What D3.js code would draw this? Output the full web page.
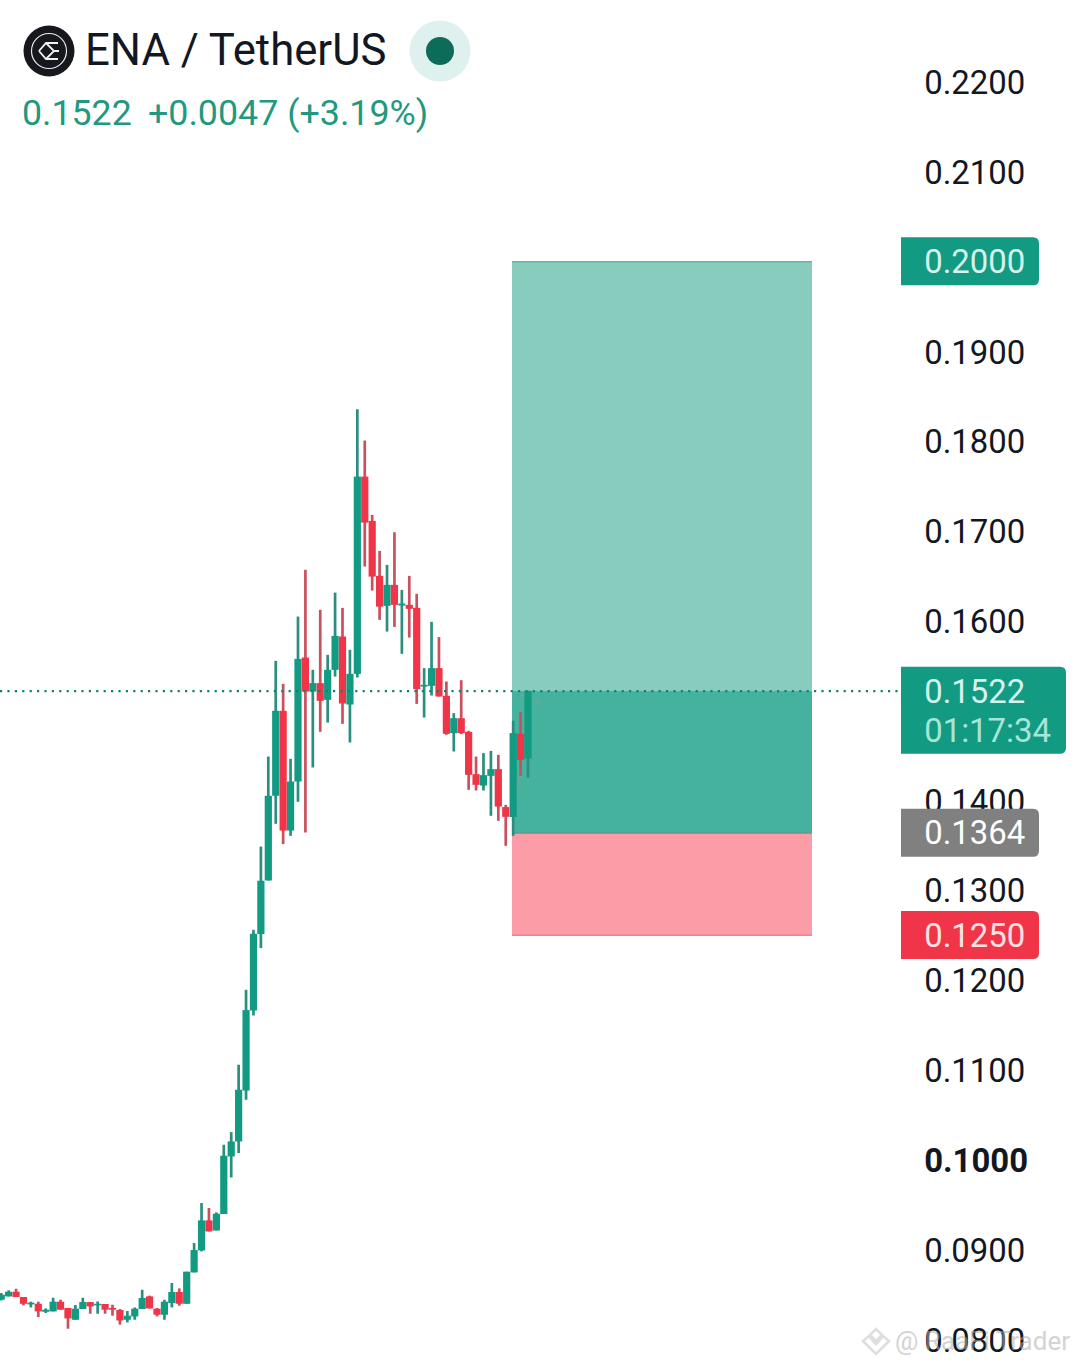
<!DOCTYPE html>
<html><head><meta charset="utf-8">
<style>html,body{margin:0;padding:0;background:#fff}svg{display:block}text{font-family:Roboto,sans-serif}</style>
<script src="https://cdn.jsdelivr.net/npm/d3@7/dist/d3.min.js"></script>
</head><body><div id="c"></div>
<script>
const opens=[.08444,.08481,.08533,.08474,.08392,.08399,.08310,.08314,.08422,.08352,.08221,.08341,.08418,.08381,.08396,.08352,.08329,.08221,.08258,.08341,.08481,.08344,.08277,.08407,.08530,.08399,.08748,.08993,.09327,.09215,.09398,.10039,.10206,.10773,.11664,.12515,.13111,.14054,.15000,.13667,.14213,.15593,.15214,.15308,.15122,.15456,.15827,.15070,.15411,.17607,.17114,.16502,.16168,.16402,.16172,.16179,.16146,.15270,.15278,.15475,.15167,.14751,.14918,.14766,.14295,.14168,.14276,.14351,.13928,.13817,.14744,.14469];
const highs=[.08519,.08548,.08566,.08474,.08422,.08422,.08347,.08466,.08444,.08352,.08385,.08466,.08418,.08425,.08396,.08388,.08340,.08318,.08358,.08555,.08489,.08352,.08444,.08630,.08570,.08756,.09075,.09520,.09465,.09416,.10169,.10310,.11060,.11894,.12562,.13489,.14491,.15556,.15300,.14465,.16049,.16569,.15456,.16124,.15623,.16316,.16146,.15678,.18357,.18008,.17181,.16780,.16625,.16988,.16346,.16502,.16302,.15475,.15990,.15820,.15326,.14974,.15341,.14777,.14491,.14529,.14554,.14510,.13953,.14888,.14985,.15222];
const lows=[.08436,.08481,.08474,.08381,.08358,.08251,.08296,.08314,.08333,.08121,.08221,.08341,.08288,.08288,.08288,.08266,.08166,.08191,.08221,.08341,.08347,.08258,.08221,.08358,.08377,.08399,.08748,.08982,.09204,.09215,.09398,.09805,.10077,.10670,.11608,.12358,.13111,.13742,.13516,.13608,.13987,.13645,.14369,.14766,.14869,.15381,.14855,.14647,.15370,.16606,.16338,.16012,.15882,.15934,.15634,.15815,.15077,.14925,.15170,.15159,.14733,.14547,.14740,.14120,.14113,.14113,.13831,.13775,.13497,.13608,.14276,.14251];
const closes=[.08500,.08533,.08474,.08399,.08411,.08314,.08333,.08422,.08333,.08236,.08344,.08418,.08369,.08399,.08333,.08333,.08213,.08266,.08344,.08463,.08347,.08277,.08422,.08530,.08399,.08756,.08997,.09327,.09204,.09401,.10047,.10206,.10781,.11668,.12518,.13108,.14054,.15000,.13667,.14213,.15578,.15214,.15308,.15111,.15456,.15834,.15081,.15411,.17607,.17095,.16494,.16160,.16402,.16179,.16194,.16135,.15241,.15289,.15475,.15159,.14744,.14918,.14751,.14287,.14176,.14284,.14351,.13934,.13820,.14751,.14454,.15222];
const yTicks=[.22,.21,.19,.18,.17,.16,.14,.13,.12,.11,.10,.09,.08];
const boldTick=.10;
const lastPrice=.1522, targetPrice=.2000, entryPrice=.1364, stopPrice=.1250;
const titleText="ENA / TetherUS";
const quoteText="0.1522";
const changeText="+0.0047 (+3.19%)";
const countdown="01:17:34";
const watermark="@ RaaFi Trader";

const GREEN="#129a82",RED="#ef3547";
const W=1080,H=1366;
const svg=d3.select("#c").append("svg").attr("width",W).attr("height",H).attr("viewBox",`0 0 ${W} ${H}`);
const y=d3.scaleLinear().domain([.22,.08]).range([82,1339.6]);
const x=d3.scaleLinear().domain([0,71]).range([1.2,528]);
const posX0=512,posX1=812;

// position tool
const zones=[[targetPrice,lastPrice,"#87ccbc"],[lastPrice,entryPrice,"#44b29e"],[entryPrice,stopPrice,"#fb9ca6"]];
svg.selectAll("rect.zone").data(zones).join("rect").attr("class","zone")
 .attr("x",posX0).attr("width",posX1-posX0)
 .attr("y",d=>y(d[0])).attr("height",d=>y(d[1])-y(d[0])).attr("fill",d=>d[2]);
svg.append("line").attr("x1",posX0).attr("x2",posX1).attr("y1",y(targetPrice)).attr("y2",y(targetPrice)).attr("stroke","#5fb8a6").attr("stroke-width",1.5);
svg.append("line").attr("x1",posX0).attr("x2",posX1).attr("y1",y(entryPrice)).attr("y2",y(entryPrice)).attr("stroke","#5c9d92").attr("stroke-width",1.5);
svg.append("line").attr("x1",posX0).attr("x2",posX1).attr("y1",y(stopPrice)).attr("y2",y(stopPrice)).attr("stroke","#ee8590").attr("stroke-width",1.5);

// faint path arrow from entry to the last price
svg.append("path").attr("fill","none").attr("stroke","#7f9f99").attr("stroke-width",1.4).attr("opacity",.75)
 .attr("d",`M${x(69)},${y(entryPrice)}L${x(71)},${y(lastPrice)}`);
svg.append("path").attr("fill","none").attr("stroke","#7f9f99").attr("stroke-width",1.6).attr("opacity",.8)
 .attr("d",`M${x(71)-8},${y(lastPrice)+6}L${x(71)-2},${y(lastPrice)+1}M${x(71)+6},${y(lastPrice)+7}L${x(71)+13},${y(lastPrice)+14}`);

// candles
const idx=d3.range(opens.length);
const col=i=>closes[i]>=opens[i]?GREEN:RED;
const wickCol=i=>closes[i]>=opens[i]?"#2a8f7e":"#c9505e";
svg.selectAll("line.w").data(idx).join("line").attr("class","w")
 .attr("x1",x).attr("x2",x).attr("y1",i=>y(highs[i])).attr("y2",i=>y(lows[i]))
 .attr("stroke",wickCol).attr("stroke-width",2.7);
svg.selectAll("rect.b").data(idx).join("rect").attr("class","b")
 .attr("x",i=>x(i)-3.6).attr("width",7.2)
 .attr("y",i=>y(Math.max(opens[i],closes[i])))
 .attr("height",i=>Math.max(1.6,Math.abs(y(opens[i])-y(closes[i]))))
 .attr("fill",col);

// last price dotted line
svg.append("line").attr("x1",0).attr("x2",900).attr("y1",y(lastPrice)).attr("y2",y(lastPrice))
 .attr("stroke","#0c8570").attr("stroke-width",2.2).attr("stroke-dasharray","2.2 5.2");

// axis
const axis=d3.axisRight(y).tickValues(yTicks).tickSize(0).tickPadding(0).tickFormat(d3.format(".4f"));
const gA=svg.append("g").attr("transform","translate(924.2,0)").call(axis);
gA.select(".domain").remove();
gA.selectAll("text").style("font-family","Roboto,sans-serif").style("font-size","32.9px").attr("fill","#131722")
 .attr("dy","0.35em")
 .style("font-weight",d=>d===boldTick?700:400);

// tags
function tagPath(x0,y0,w,h,r){return `M${x0},${y0}H${x0+w-r}Q${x0+w},${y0} ${x0+w},${y0+r}V${y0+h-r}Q${x0+w},${y0+h} ${x0+w-r},${y0+h}H${x0}Z`;}
const tags=[[targetPrice,GREEN,"#d6f3ec"],[entryPrice,"#808080","#fff"],[stopPrice,RED,"#fde2e5"]];
tags.forEach(t=>{
 const c=y(t[0]);
 svg.append("path").attr("d",tagPath(901,c-24.3,138,48,6)).attr("fill",t[1]);
 svg.append("text").attr("x",924.2).attr("y",c).attr("dy","0.35em").attr("font-size",32.9).attr("fill",t[2]).text(d3.format(".4f")(t[0]));
});
const cy=y(lastPrice);
svg.append("path").attr("d",tagPath(901,cy-24.3,165,87,6)).attr("fill",GREEN);
svg.append("text").attr("x",924.2).attr("y",cy).attr("dy","0.35em").attr("font-size",32.9).attr("fill","#d6f3ec").text(d3.format(".4f")(lastPrice));
svg.append("text").attr("x",924.2).attr("y",cy+39).attr("dy","0.35em").attr("font-size",32.9).attr("fill","#a6e6d8").text(countdown);

// header
const ic=svg.append("g").attr("transform","translate(49,51)");
ic.append("circle").attr("r",25.5).attr("fill","#16181d");
ic.append("circle").attr("r",17.5).attr("fill","none").attr("stroke","#e8e8e8").attr("stroke-width",1.2);
ic.append("path").attr("d","M-10,0L-3,-8H9M-10,0L-3,8H9M-3,-8L5,0L-3,8M5,0H10").attr("fill","none").attr("stroke","#f2f2f2").attr("stroke-width",1.8);
svg.append("text").attr("x",85).attr("y",65).attr("font-size",43.7).attr("fill","#131722").text(titleText);
svg.append("circle").attr("cx",440).attr("cy",51).attr("r",30.5).attr("fill","#dff1ee");
svg.append("circle").attr("cx",440).attr("cy",51).attr("r",14).attr("fill","#0d6b5a");
svg.append("text").attr("x",22).attr("y",125).attr("font-size",35.7).attr("fill","#22987f").text(quoteText);
svg.append("text").attr("x",148).attr("y",125).attr("font-size",35.8).attr("fill","#22987f").text(changeText);

// watermark
const wm=svg.append("g").attr("opacity",.55);
const lg=wm.append("g").attr("transform","translate(876,1341)").attr("fill","none").attr("stroke","#c4c4c4").attr("stroke-width",2.6);
lg.append("path").attr("d","M0,-12L6,-6L0,0L-6,-6ZM-13,0L-7,-5L-2,1L0,3L2,1L7,-5L13,0L0,13Z");
wm.append("text").attr("x",895).attr("y",1350).attr("font-size",26).attr("fill","#b0b0b0").text(watermark);
</script></body></html>
